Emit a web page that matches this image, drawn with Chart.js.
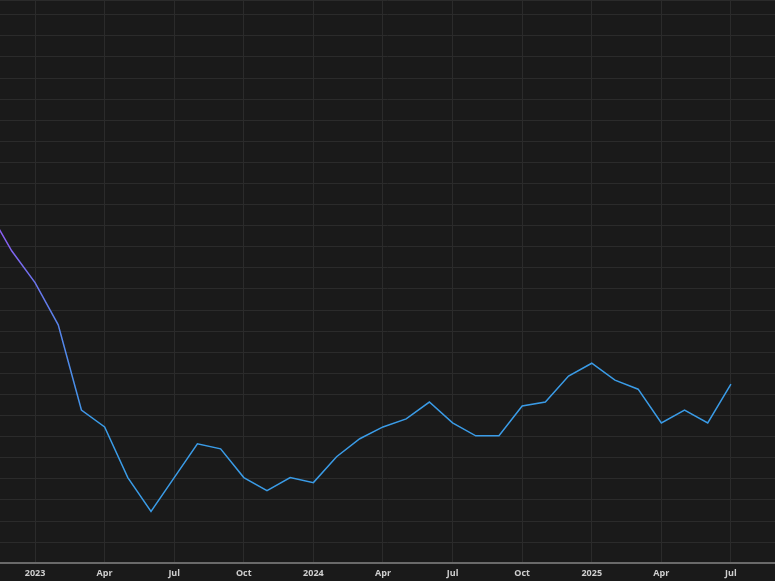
<!DOCTYPE html>
<html>
<head>
<meta charset="utf-8">
<script src="https://cdn.jsdelivr.net/npm/chart.js@4"></script>
<style>
html,body{margin:0;padding:0;background:#1a1a1a;}
#wrap{width:775px;height:584px;}
</style>
</head>
<body>
<div id="wrap"><canvas id="c"></canvas></div>
<script>
// month index: 0 = Jan 2023
const months = [-2,-1,0,1,2,3,4,5,6,7,8,9,10,11,12,13,14,15,16,17,18,19,20,21,22,23,24,25,26,27,28,29,30];
const values = [16.7,14.8,13.3,11.3,7.26,6.46,4.06,2.45,4.06,5.66,5.42,4.06,3.44,4.06,3.82,5.05,5.90,6.46,6.84,7.64,6.65,6.04,6.04,7.45,7.64,8.87,9.48,8.68,8.25,6.65,7.26,6.65,8.49];
const tickPos = [0,3,6,9,12,15,18,21,24,27,30];
const tickLabels = ["2023","Apr","Jul","Oct","2024","Apr","Jul","Oct","2025","Apr","Jul"];

function lineColor(ctx){
  const ch=ctx.chart, a=ch.chartArea;
  if(!a) return "#3a9be6";
  const x=ch.scales.x;
  const g=ch.ctx.createLinearGradient(x.getPixelForValue(-1.5),0,x.getPixelForValue(2.5),0);
  g.addColorStop(0,"#8a5cf0");
  g.addColorStop(1,"#3a9be6");
  return g;
}

new Chart(document.getElementById("c"),{
  type:"line",
  data:{datasets:[{
    data:months.map((m,i)=>({x:m,y:values[i]})),
    borderColor:lineColor,
    borderWidth:1.5,
    pointRadius:0,
    tension:0
  }]},
  options:{
    responsive:true,maintainAspectRatio:false,animation:false,
    layout:{padding:0},
    plugins:{legend:{display:false},tooltip:{enabled:false}},
    scales:{
      x:{type:"linear",min:-1.51,max:31.9,
        afterBuildTicks:s=>{s.ticks=tickPos.map(v=>({value:v}));},
        grid:{color:"#2b2b2b",drawTicks:false},
        border:{color:"#6a6a6a",width:2},
        ticks:{color:"#cfcfcf",font:{family:"Open Sans",size:9,weight:"bold"},padding:5,maxRotation:0,autoSkip:false,
          callback:v=>tickLabels[tickPos.indexOf(v)]}
      },
      y:{min:0,max:26.7,display:true,
        ticks:{display:false,stepSize:1},
        grid:{color:"#2b2b2b",drawTicks:false},
        border:{display:false}
      }
    }
  }
});
</script>
</body>
</html>
